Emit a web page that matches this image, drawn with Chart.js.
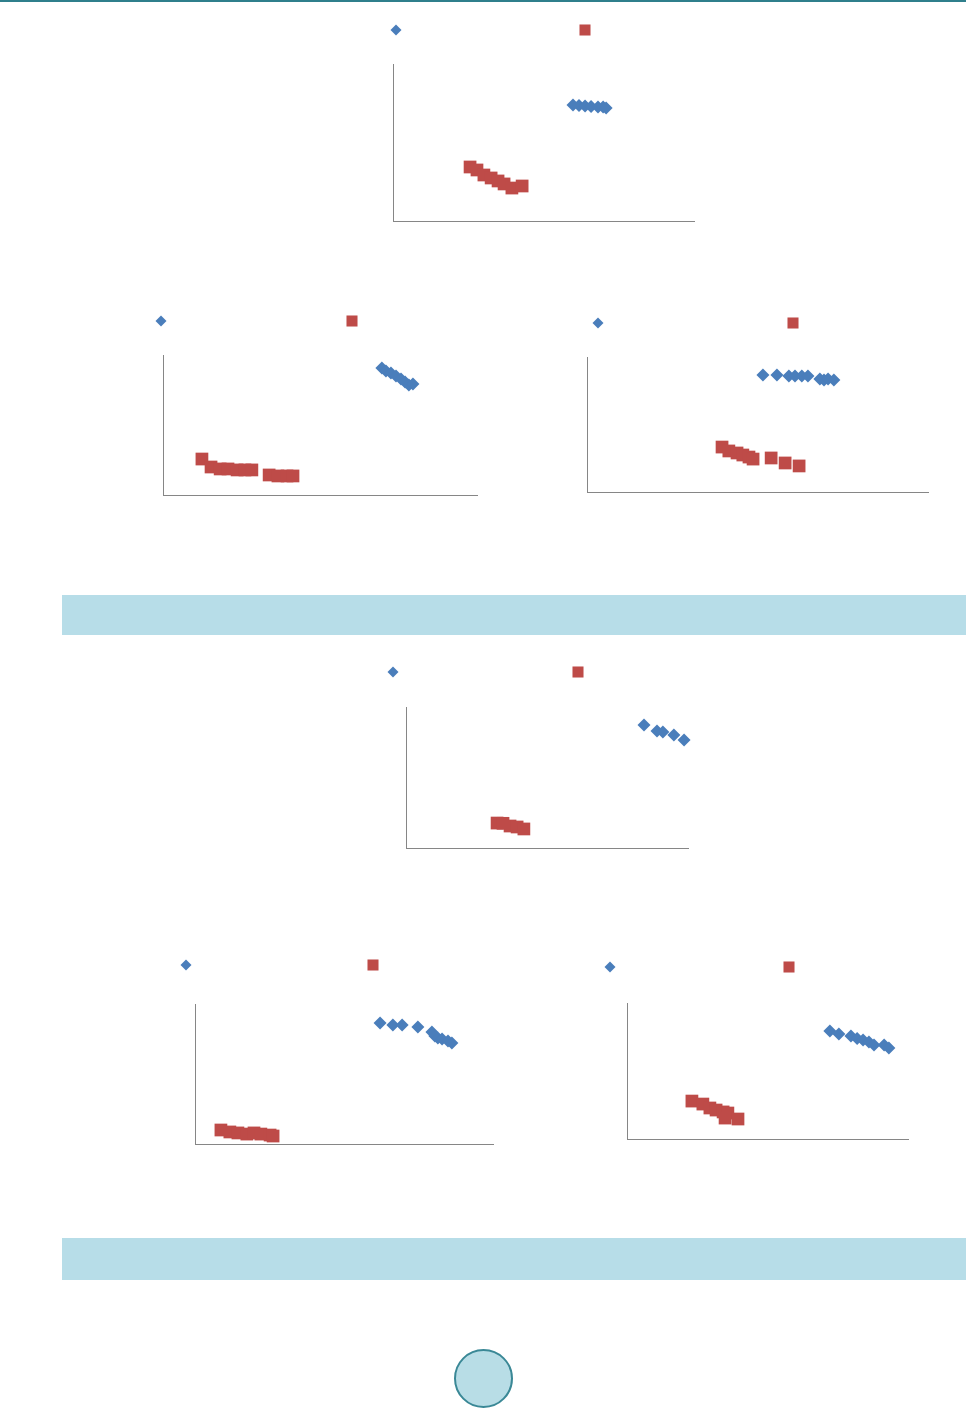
<!DOCTYPE html>
<html>
<head>
<meta charset="utf-8">
<script src="https://cdn.jsdelivr.net/npm/chart.js"></script>
<style>
  body { margin: 0; background: #fff; }
  #page { position: relative; width: 966px; height: 1409px; overflow: hidden; background: #fff; }
  #page canvas { position: absolute; }
  .topline { position: absolute; left: 0; top: 0; width: 966px; height: 2px; background: #2f7f8c; }
  .band { position: absolute; left: 62px; width: 904px; background: #b7dde8; }
  .pageno { position: absolute; left: 454px; top: 1349px; width: 55px; height: 55px; border-radius: 50%;
            background: #b8dde6; border: 2px solid #3a8896; }
</style>
</head>
<body>
<div id="page">
  <div class="topline"></div>
  <div class="band" style="top:595px;height:40px"></div>
  <div class="band" style="top:1238px;height:42px"></div>
  <div class="pageno"></div>
</div>
<script>
// colours of the two series
var blue = '#4A7EBB';
var red = '#BE4B48';

// chart 1 (top)
var c1BlueX = [59.8, 61.8, 63.8, 65.8, 68.1, 69.8, 70.8];
var c1BlueY = [73.9, 73.6, 73.2, 72.9, 72.6, 72.6, 72.0];
var c1RedX = [25.6, 27.9, 30.2, 32.6, 34.9, 36.9, 39.5, 42.9];
var c1RedY = [34.4, 32.5, 29.3, 27.4, 25.5, 23.6, 21.0, 22.3];

// chart 2 (middle left)
var c2BlueX = [69.7, 71.0, 72.6, 74.2, 75.8, 77.1, 78.3, 79.6];
var c2BlueY = [90.7, 88.6, 87.1, 85.0, 82.9, 80.7, 78.6, 79.3];
var c2RedX = [12.4, 15.3, 18.2, 20.7, 23.6, 26.1, 28.3, 33.8, 36.6, 39.5, 41.4];
var c2RedY = [25.7, 20.0, 18.6, 18.6, 17.9, 17.9, 17.9, 14.3, 13.6, 13.6, 13.6];

// chart 3 (middle right)
var c3BlueX = [51.6, 55.7, 59.2, 61.0, 63.0, 64.8, 68.3, 69.5, 70.7, 72.4];
var c3BlueY = [86.7, 86.7, 85.9, 85.9, 85.9, 85.9, 83.7, 83.0, 83.7, 83.0];
var c3RedX = [39.6, 41.6, 44.0, 45.7, 47.5, 48.7, 54.0, 58.1, 62.2];
var c3RedY = [33.3, 30.4, 28.9, 27.4, 25.9, 24.4, 25.2, 21.5, 19.3];

// chart 4 (second block, centre)
var c4BlueX = [84.4, 89.0, 91.1, 95.0, 98.6];
var c4BlueY = [87.2, 83.0, 82.3, 80.1, 76.6];
var c4RedX = [32.3, 34.4, 36.9, 39.4, 41.8];
var c4RedY = [17.7, 17.5, 15.6, 14.9, 13.5];

// chart 5 (bottom left)
var c5BlueX = [62.1, 66.4, 69.5, 74.8, 79.5, 80.5, 81.5, 82.9, 84.9, 86.2];
var c5BlueY = [86.4, 85.0, 85.0, 83.6, 80.0, 77.1, 75.7, 75.0, 73.6, 72.1];
var c5RedX = [8.7, 11.7, 14.4, 17.4, 19.8, 22.1, 25.2, 26.2];
var c5RedY = [10.0, 8.6, 7.9, 7.1, 7.9, 7.1, 6.4, 5.7];

// chart 6 (bottom right)
var c6BlueX = [72.2, 75.4, 79.7, 81.9, 84.0, 86.1, 87.9, 91.5, 93.2];
var c6BlueY = [79.4, 77.2, 75.7, 73.9, 72.8, 71.3, 69.1, 69.1, 66.9];
var c6RedX = [23.1, 27.0, 29.5, 31.7, 34.2, 35.9, 34.9, 39.5];
var c6RedY = [27.9, 25.7, 22.8, 21.3, 19.9, 19.1, 15.4, 14.7];

// axis range shared by all plots
var axisMin = 0;
var axisMax = 100;

function pairs(xs, ys) {
    return xs.map(function (x, i) { return { x: x, y: ys[i] }; });
}

var page = document.getElementById('page');

// box = plot area on the page [left, top, right, bottom], keys = legend marker spots
function makeScatter(box, keys, blueX, blueY, redX, redY) {
    var left = Math.min(box[0], keys[0][0]) - 20;
    var top = keys[0][1] - 15;
    var right = box[2] + 20;
    var bottom = box[3] + 12;

    var cv = document.createElement('canvas');
    cv.width = right - left;
    cv.height = bottom - top;
    cv.style.left = left + 'px';
    cv.style.top = top + 'px';
    page.appendChild(cv);

    // marker-only legend (the series names are blank)
    var keyMarks = {
        id: 'keyMarks',
        afterDraw: function (chart) {
            var ctx = chart.ctx;
            var sizes = [5.5, 7.8];
            chart.data.datasets.forEach(function (ds, i) {
                ctx.save();
                ctx.fillStyle = ds.backgroundColor;
                Chart.helpers.drawPoint(ctx, {
                    pointStyle: ds.pointStyle, radius: sizes[i], rotation: 0, borderWidth: 0
                }, keys[i][0] - left, keys[i][1] - top);
                ctx.restore();
            });
        }
    };

    var axis = {
        type: 'linear',
        min: axisMin,
        max: axisMax,
        ticks: { display: false },
        grid: { display: false, drawTicks: false },
        border: { color: '#868686', width: 1 }
    };

    return new Chart(cv, {
        type: 'scatter',
        data: {
            datasets: [{
                label: '',
                data: pairs(blueX, blueY),
                pointStyle: 'rectRot',
                pointRadius: 6.5,
                backgroundColor: blue,
                borderColor: blue,
                borderWidth: 0,
                clip: false
            }, {
                label: '',
                data: pairs(redX, redY),
                pointStyle: 'rect',
                pointRadius: 9,
                backgroundColor: red,
                borderColor: red,
                borderWidth: 0,
                clip: false
            }]
        },
        options: {
            responsive: false,
            animation: false,
            events: [],
            layout: {
                padding: { left: box[0] - left, top: box[1] - top, right: right - box[2], bottom: bottom - box[3] }
            },
            scales: { x: axis, y: Object.assign({}, axis) },
            plugins: { legend: { display: false }, tooltip: { enabled: false } }
        },
        plugins: [keyMarks]
    });
}

makeScatter([393, 64, 694, 221], [[396, 30], [585, 30]], c1BlueX, c1BlueY, c1RedX, c1RedY);
makeScatter([163, 355, 477, 495], [[161, 321], [352, 321]], c2BlueX, c2BlueY, c2RedX, c2RedY);
makeScatter([587, 357, 928, 492], [[598, 323], [793, 323]], c3BlueX, c3BlueY, c3RedX, c3RedY);
makeScatter([406, 707, 688, 848], [[393, 672], [578, 672]], c4BlueX, c4BlueY, c4RedX, c4RedY);
makeScatter([195, 1004, 493, 1144], [[186, 965], [373, 965]], c5BlueX, c5BlueY, c5RedX, c5RedY);
makeScatter([627, 1003, 908, 1139], [[610, 967], [789, 967]], c6BlueX, c6BlueY, c6RedX, c6RedY);
</script>
</body>
</html>
